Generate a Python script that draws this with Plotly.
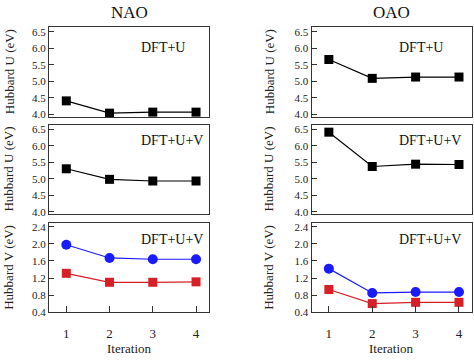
import plotly.graph_objects as go

iterations = [1, 2, 3, 4]

nao_u_dftu = [4.41, 4.04, 4.07, 4.07]
nao_u_dftuv = [5.30, 4.98, 4.93, 4.93]
nao_v_blue = [1.98, 1.67, 1.64, 1.64]
nao_v_red = [1.31, 1.10, 1.10, 1.11]

oao_u_dftu = [5.66, 5.09, 5.13, 5.13]
oao_u_dftuv = [6.41, 5.37, 5.44, 5.43]
oao_v_blue = [1.42, 0.85, 0.87, 0.87]
oao_v_red = [0.93, 0.60, 0.63, 0.63]

u_ticks = [4.0, 4.5, 5.0, 5.5, 6.0, 6.5]
v_ticks = [0.4, 0.8, 1.2, 1.6, 2.0, 2.4]

FONT = "Liberation Serif"
BLACK = "#000000"
BLUE = "#1a1aff"
RED = "#d61f26"
FRAME = "#333333"

H = 363.0
def yd(top, bot):
    return [1 - bot / H, 1 - top / H]

W = 474.0
xdom_left = [49 / W, 209 / W]
xdom_right = [311.5 / W, 472 / W]
ydoms = [yd(25, 117), yd(125, 216.7), yd(226, 317)]
label_y = [0.78, 0.83, 0.82]

fig = go.Figure()

panels = [
    (0, 0, [(nao_u_dftu, BLACK, "square")], u_ticks, [3.92, 6.63], "DFT+U"),
    (0, 1, [(nao_u_dftuv, BLACK, "square")], u_ticks, [3.92, 6.63], "DFT+U+V"),
    (0, 2, [(nao_v_blue, BLUE, "circle"), (nao_v_red, RED, "square")], v_ticks, [0.4, 2.48], "DFT+U+V"),
    (1, 0, [(oao_u_dftu, BLACK, "square")], u_ticks, [3.92, 6.63], "DFT+U"),
    (1, 1, [(oao_u_dftuv, BLACK, "square")], u_ticks, [3.92, 6.63], "DFT+U+V"),
    (1, 2, [(oao_v_blue, BLUE, "circle"), (oao_v_red, RED, "square")], v_ticks, [0.4, 2.48], "DFT+U+V"),
]

layout = dict(
    width=474, height=363,
    margin=dict(l=0, r=0, t=0, b=0),
    paper_bgcolor="white", plot_bgcolor="white",
    showlegend=False,
    font=dict(family=FONT, color="#222222", size=11),
)
annotations = []

for i, (col, row, series, yt, yr, label) in enumerate(panels):
    n = i + 1
    xa = "x" if n == 1 else f"x{n}"
    ya = "y" if n == 1 else f"y{n}"
    for vals, color, sym in series:
        fig.add_trace(go.Scatter(
            x=iterations, y=vals, mode="lines+markers",
            line=dict(color=color, width=1.2),
            marker=dict(symbol=sym, size=9 if sym == "square" else 10, color=color),
            xaxis=xa, yaxis=ya, cliponaxis=False,
        ))
    xdom = xdom_left if col == 0 else xdom_right
    bottom = row == 2
    layout["xaxis" if n == 1 else f"xaxis{n}"] = dict(
        domain=xdom, anchor=ya, range=[0.6, 4.3],
        showline=True, mirror=True, linecolor=FRAME, linewidth=1.3,
        showgrid=False, zeroline=False,
        tickvals=iterations if bottom else [],
        ticks="inside" if bottom else "", ticklen=6, tickcolor=FRAME,
        showticklabels=bottom, ticklabelstandoff=9,
        tickfont=dict(family=FONT, size=13, color="#222222"),
    )
    layout["yaxis" if n == 1 else f"yaxis{n}"] = dict(
        domain=ydoms[row], anchor=xa, range=yr,
        showline=True, mirror=True, linecolor=FRAME, linewidth=1.3,
        showgrid=False, zeroline=False,
        tickvals=yt, tickformat=".1f",
        ticks="inside", ticklen=5, tickcolor=FRAME,
        tickfont=dict(family=FONT, size=11, color="#222222"),
    )
    annotations.append(dict(
        text=label, xref=f"{xa} domain", yref=f"{ya} domain",
        x=0.56 if col == 0 else 0.53, y=label_y[row], xanchor="left", yanchor="middle",
        showarrow=False, font=dict(family=FONT, size=14, color="#111111"),
    ))
    ytitle = "Hubbard V (eV)" if bottom else "Hubbard U (eV)"
    annotations.append(dict(
        text=ytitle, xref="paper", yref=f"{ya} domain",
        x=(9 if col == 0 else 269) / W, y=0.5, xanchor="center", yanchor="middle",
        textangle=-90, showarrow=False,
        font=dict(family=FONT, size=13, color="#222222"),
    ))

for col, name in enumerate(["NAO", "OAO"]):
    xc = (129 if col == 0 else 391) / W
    annotations.append(dict(
        text=name, xref="paper", yref="paper", x=xc, y=1 - 10 / H,
        xanchor="center", yanchor="middle", showarrow=False,
        font=dict(family=FONT, size=17, color="#111111"),
    ))
    annotations.append(dict(
        text="Iteration", xref="paper", yref="paper", x=xc, y=0,
        xanchor="center", yanchor="bottom", yshift=-1, showarrow=False,
        font=dict(family=FONT, size=13, color="#222222"),
    ))

layout["annotations"] = annotations
fig.update_layout(**layout)
fig.write_html(
    "out.html",
    config={"displayModeBar": False},
    post_script="document.body.style.margin='0';document.body.style.overflow='hidden';",
)
